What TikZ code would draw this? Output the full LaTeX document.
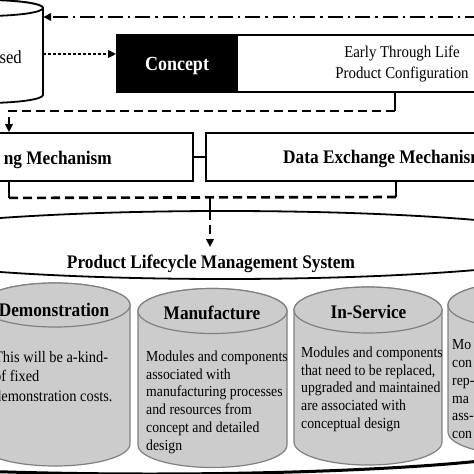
\documentclass[tikz,border=0pt]{standalone}
\usepackage{fontspec}
\setmainfont{Liberation Serif}[FakeStretch=0.9]
\usetikzlibrary{arrows.meta,calc}
\definecolor{cylgray}{RGB}{204,204,204}
\definecolor{cylborder}{RGB}{128,128,128}
\newcommand{\drawcyl}[6]{%
  \path[#6] (#1-#2,#3) -- (#1-#2,#5) arc[start angle=180,end angle=0,x radius=#2,y radius=#4] -- (#1+#2,#3) arc[start angle=0,end angle=-180,x radius=#2,y radius=#4] -- cycle;
  \path[#6] (#1,#3) ellipse[x radius=#2,y radius=#4];
}
\begin{document}
\begin{tikzpicture}[x=1pt,y=-1pt,
  box/.style={draw=black,line width=1.8pt,fill=white,inner sep=0pt},
  dashdotline/.style={line width=2.6pt,dash pattern=on 15pt off 5pt on 2.5pt off 5pt},
  dotline/.style={line width=2.6pt,dash pattern=on 2.5pt off 2.5pt},
  dashline/.style={line width=2.6pt,dash pattern=on 9pt off 5pt},
  tickline/.style={line width=1.6pt},
  tip/.style={-{Triangle[length=8pt,width=7.5pt]}},
  cylstyle/.style={fill=cylgray,draw=cylborder,line width=1.2pt},
  dbstyle/.style={fill=white,draw=black,line width=1.8pt},
  boldtitle/.style={font=\fontsize{19.2}{22}\selectfont\bfseries,inner sep=0pt},
  bodytext/.style={font=\fontsize{15.3}{17.8}\selectfont,align=left,anchor=north west,inner sep=0pt}
]
\useasboundingbox (0,0) rectangle (474,474);
\clip (0,0) rectangle (474,474);
\fill[white] (0,0) rectangle (474,474);

% top-left database
\drawcyl{-15}{58}{8}{8}{95}{dbstyle}
\node[inner sep=0pt,minimum width=116pt,minimum height=88pt] (db) at (-15,52) {};
\node[font=\fontsize{18.5}{21}\selectfont,inner sep=0pt,anchor=base east] (dbtxt) at (22,63) {sed};

% concept and configuration boxes
\node[box,minimum width=330pt,minimum height=57pt,align=center,font=\fontsize{16.5}{21}\selectfont] (early) at (402,63.5) {Early Through Life\\Product Configuration};
\node[box,fill=black,minimum width=120pt,minimum height=57pt,text=white,font=\fontsize{20}{22}\selectfont\bfseries,text depth=0pt] (concept) at (177,63.5) {Concept};

% mechanism boxes
\node[box,minimum width=353pt,minimum height=48pt] (share) at (16.5,157) {};
\node[boldtitle,anchor=base east] (sharetxt) at (112,164.3) {ng Mechanism};
\node[box,minimum width=356pt,minimum height=48pt,font=\fontsize{19.2}{22}\selectfont\bfseries,text depth=0pt] (exch) at (384,157) {Data Exchange Mechanism};
\draw[line width=1.8pt] (share.east) -- (exch.west);

% connectors at top
\coordinate (ddstart) at (480,17);
\draw[dashdotline,tip] (ddstart) -- (ddstart -| db.east);
\draw[dotline,tip] (db.east |- 0,54) -- (concept.west |- 0,54);
\draw[tickline] ([xshift=11pt]early.south -| exch.center) -- ++(0,18) coordinate (t1);
\draw[dashline,tip] (t1) -| (share.north -| 9,0);
\draw[line width=2.2pt] (share.south -| 9,0) -- ++(0,16) coordinate (t2);
\draw[dashline] (t2) -- (396,197) coordinate (t3);
\draw[tickline] (t3) -- (t3 |- exch.south);

% PLM big cylinder
\draw[line width=1.8pt] (225,245) ellipse[x radius=370,y radius=34];
\draw[line width=3pt] (-270,440) arc[start angle=180,end angle=0,x radius=420,y radius=34];
\node[boldtitle,anchor=base] (plm) at (211,268) {Product Lifecycle Management System};
\coordinate (plmtop) at (210,211);
\draw[line width=2.2pt] (plmtop |- t2) -- (plmtop);
\draw[dashline,tip] (plmtop) -- (210,247);

% small cylinders
\drawcyl{55}{75}{305}{22}{444}{cylstyle}
\drawcyl{212.5}{74.5}{311}{22.5}{445}{cylstyle}
\drawcyl{368}{74}{310}{23}{442}{cylstyle}
\drawcyl{522}{74}{305}{23}{432}{cylstyle}

\node[boldtitle,anchor=base] (demot) at (54,316) {Demonstration};
\node[boldtitle,anchor=base] (manut) at (212,319) {Manufacture};
\node[boldtitle,anchor=base] (servt) at (368.5,318) {In-Service};

\node[bodytext,font=\fontsize{16}{19.5}\selectfont] (demob) at (-6,351) {This will be a-kind-\\of fixed\\demonstration costs.};
\node[bodytext] (manub) at (146,350.5) {Modules and components\\associated with\\manufacturing processes\\and resources from\\concept and detailed\\design};
\node[bodytext] (servb) at (301,346.5) {Modules and components\\that need to be replaced,\\upgraded and maintained\\are associated with\\conceptual design};
\node[bodytext] (fourb) at (452,339.5) {Mo\\con\\rep-\\ma\\ass-\\con};
\end{tikzpicture}
\end{document}
